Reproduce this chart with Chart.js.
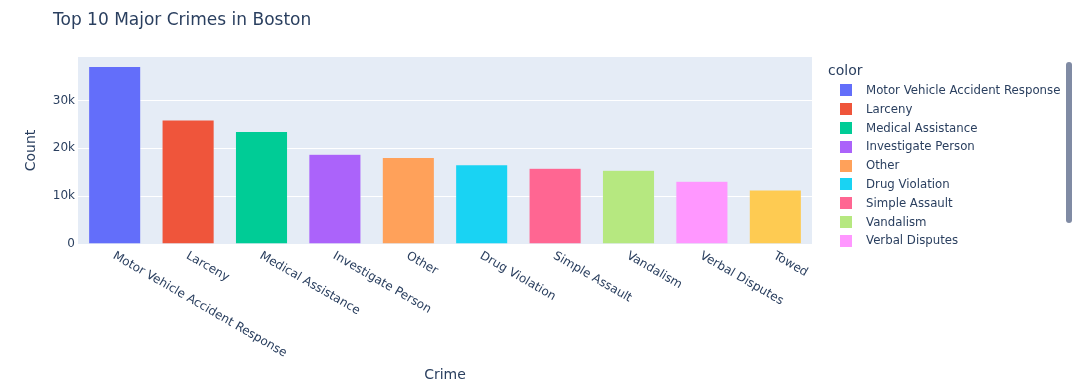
<!DOCTYPE html>
<html>
<head>
<meta charset="utf-8">
<script src="https://cdn.jsdelivr.net/npm/chart.js@4"></script>
<style>
  body { margin: 0; background: #fff; font-family: "DejaVu Sans", Verdana, sans-serif; }
  #wrap { position: relative; width: 1080px; height: 392px; }
  #legend { position: absolute; left: 828px; top: 59px; width: 236px; height: 190px; overflow: hidden; color: #2a3f5f; }
  #legend .ttl { font-size: 14px; height: 22px; line-height: 22px; }
  #legend .item { height: 18.8px; line-height: 18.8px; font-size: 11.75px; white-space: nowrap; position: relative; padding-left: 38px; }
  #legend .sw { position: absolute; left: 12px; top: 3.4px; width: 12px; height: 12px; }
  #scroll { position: absolute; left: 1066px; top: 62px; width: 6px; height: 161px; border-radius: 3px; background: #808ba4; }
</style>
</head>
<body>
<div id="wrap">
  <canvas id="crimeChart" width="1080" height="392"></canvas>
  <div id="legend"></div>
  <div id="scroll"></div>
</div>
<script>
// Top 10 bűncselekmény Bostonban

const crimes = ["Motor Vehicle Accident Response", "Larceny", "Medical Assistance", "Investigate Person",
  "Other", "Drug Violation", "Simple Assault", "Vandalism", "Verbal Disputes", "Towed"];
const counts = [37132, 25935, 23540, 18750, 18075, 16548, 15826, 15415, 13099, 11287];
const barColors = ["#636efa", "#EF553B", "#00cc96", "#ab63fa", "#FFA15A",
  "#19d3f3", "#FF6692", "#B6E880", "#FF97FF", "#FECB52"];
const yTicks = [0, 10000, 20000, 30000];

const fontName = '"DejaVu Sans", Verdana, sans-serif';
const textColor = "#2a3f5f";

// legend
const legend = document.getElementById("legend");
legend.innerHTML = '<div class="ttl">color</div>';
for (let i = 0; i < crimes.length; i++) {
    const row = document.createElement("div");
    row.className = "item";
    row.innerHTML = '<span class="sw" style="background:' + barColors[i] + '"></span>' + crimes[i];
    legend.appendChild(row);
}

const plotBg = {
    id: "plotBg",
    beforeDraw(chart) {
        const a = chart.chartArea, ctx = chart.ctx;
        ctx.save();
        ctx.fillStyle = "#E5ECF6";
        ctx.fillRect(a.left, a.top, a.right - a.left, a.bottom - a.top);
        ctx.restore();
    }
};

const texts = {
    id: "texts",
    afterDraw(chart) {
        const ctx = chart.ctx, xs = chart.scales.x, a = chart.chartArea;
        ctx.save();
        ctx.fillStyle = textColor;
        ctx.textBaseline = "middle";

        ctx.font = "17px " + fontName;
        ctx.textAlign = "left";
        ctx.fillText("Top 10 Major Crimes in Boston", 53, 21);

        ctx.font = "12px " + fontName;
        for (let i = 0; i < crimes.length; i++) {
            const px = xs.getPixelForValue(i);
            ctx.save();
            ctx.translate(px - 1, a.bottom + 11);
            ctx.rotate(Math.PI / 6);
            ctx.fillText(crimes[i], 0, 0);
            ctx.restore();
        }

        ctx.font = "14px " + fontName;
        ctx.textAlign = "center";
        ctx.fillText("Crime", (a.left + a.right) / 2, 375);
        ctx.save();
        ctx.translate(31, (a.top + a.bottom) / 2);
        ctx.rotate(-Math.PI / 2);
        ctx.fillText("Count", 0, 0);
        ctx.restore();
        ctx.restore();
    }
};

new Chart("crimeChart", {
    type: "bar",
    data: {
        labels: crimes,
        datasets: [{
            label: "Count",
            data: counts,
            backgroundColor: barColors,
            borderColor: "rgba(229,236,246,0.6)",
            borderWidth: 0.5,
            barPercentage: 0.71,
            categoryPercentage: 1
        }]
    },
    options: {
        responsive: false,
        animation: false,
        layout: { padding: { left: 0, top: 57, right: 268, bottom: 0 } },
        plugins: {
            legend: { display: false },
            tooltip: { enabled: false }
        },
        scales: {
            x: {
                grid: { display: false },
                border: { display: false },
                ticks: { display: false },
                afterFit(scale) { scale.height = 148; }
            },
            y: {
                min: 0,
                max: 39100,
                border: { display: false },
                grid: { color: "#ffffff", lineWidth: 1, drawTicks: false },
                afterBuildTicks(scale) { scale.ticks = yTicks.map(v => ({ value: v })); },
                ticks: {
                    color: textColor,
                    font: { family: fontName, size: 12 },
                    padding: 3,
                    callback: v => v === 0 ? "0" : (v / 1000) + "k"
                },
                afterFit(scale) { scale.width = 78; }
            }
        }
    },
    plugins: [plotBg, texts]
});
</script>
</body>
</html>
